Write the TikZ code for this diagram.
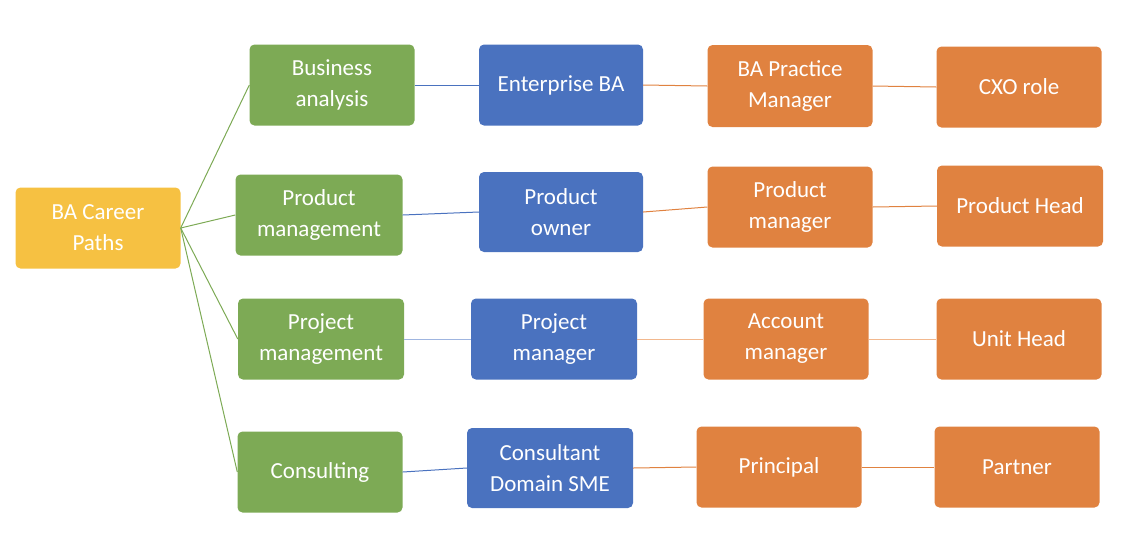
\documentclass[tikz,border=0pt]{standalone}
\usepackage{fontspec}
\setmainfont{Carlito}
\definecolor{yel}{HTML}{F6C142}
\definecolor{grn}{HTML}{7DAA55}
\definecolor{blu}{HTML}{4A72BF}
\definecolor{org}{HTML}{E08240}
\definecolor{lblu}{HTML}{9FB5E0}
\definecolor{lorg}{HTML}{F2B88E}
\begin{document}
\begin{tikzpicture}[x=1pt,y=-1pt,
 box/.style={draw=none,rounded corners=5pt,text=white,align=center,minimum width=165pt,minimum height=81pt,inner sep=2pt,font=\fontsize{23}{31}\selectfont},
 Y/.style={box,fill=yel},G/.style={box,fill=grn},B/.style={box,fill=blu},O/.style={box,fill=org},
 lg/.style={draw=grn,line width=1pt},lb/.style={draw=blu,line width=1pt},lo/.style={draw=org,line width=1pt}]
\useasboundingbox (0,0) rectangle (1146,558);
\node[Y] (ba) at (98,228) {BA Career\\Paths};
\node[G] (g1) at (332,85) {Business\\analysis};
\node[G,minimum width=167pt] (g2) at (319,215) {Product\\management};
\node[G,minimum width=166pt] (g3) at (321,339) {Project\\management};
\node[G] (g4) at (320,472) {Consulting};
\node[B,minimum width=164pt] (b1) at (561,85) {Enterprise BA};
\node[B,minimum width=164pt,minimum height=80pt] (b2) at (561,212) {Product\\owner};
\node[B,minimum width=166pt] (b3) at (554,339) {Project\\manager};
\node[B,minimum width=166pt,minimum height=80pt] (b4) at (550,468) {Consultant\\Domain SME};
\node[O,minimum height=82pt] (o1) at (790,86) {BA Practice\\Manager};
\node[O] (o2) at (790,207) {Product\\manager};
\node[O] (o3) at (786,339) {Account\\manager};
\node[O] (o4) at (779,467) {Principal};
\node[O] (c1) at (1019,87) {CXO role};
\node[O,minimum width=166pt] (c2) at (1020,206) {Product Head};
\node[O] (c3) at (1019,339) {Unit Head};
\node[O] (c4) at (1017,467) {Partner};
\foreach \g in {g1,g2,g3,g4}{\draw[lg] (ba.east) -- (\g.west);}
\draw[lb] (g1.east) -- (b1.west);
\draw[lb] (g2.east) -- (b2.west);
\draw[draw=lblu,line width=1pt] (g3.east) -- (b3.west);
\draw[lb] (g4.east) -- (b4.west);
\draw[lo] (b1.east) -- (o1.west);
\draw[lo] (b2.east) -- (o2.west);
\draw[draw=lorg,line width=1pt] (b3.east) -- (o3.west);
\draw[lo] (b4.east) -- (o4.west);
\draw[lo] (o1.east) -- (c1.west);
\draw[lo] (o2.east) -- (c2.west);
\draw[draw=lorg,line width=1pt] (o3.east) -- (c3.west);
\draw[lo] (o4.east) -- (c4.west);
\end{tikzpicture}
\end{document}
